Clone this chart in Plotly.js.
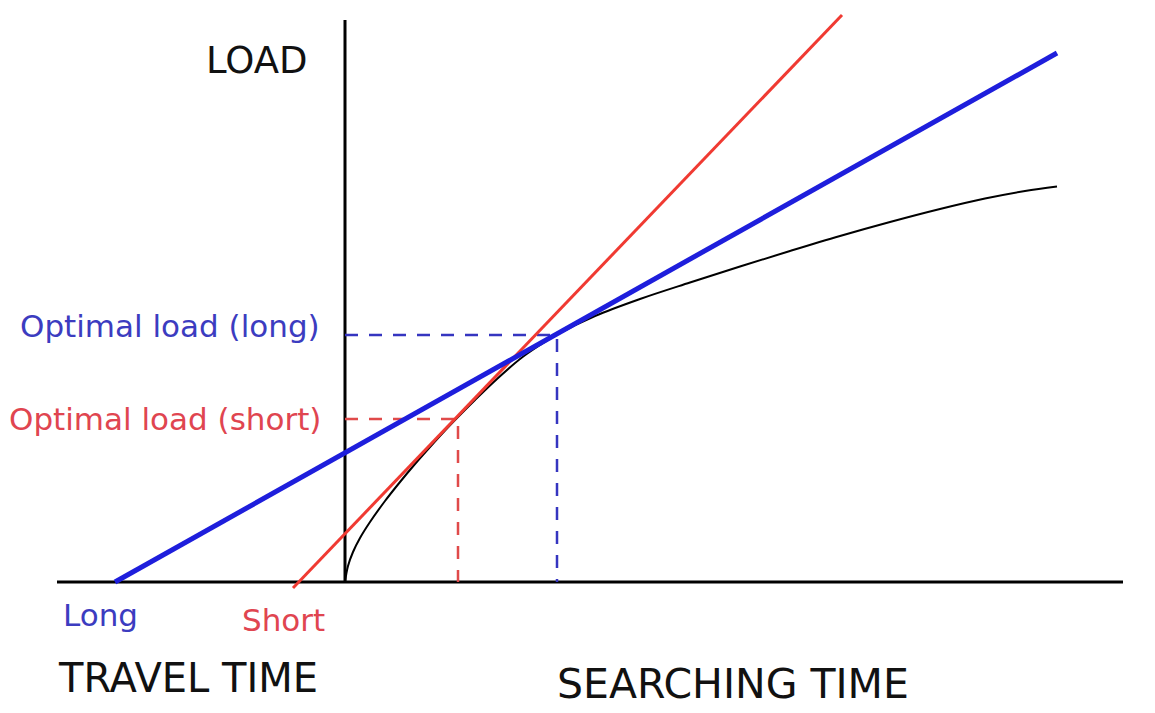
<!DOCTYPE html>
<html>
<head>
<meta charset="utf-8">
<script src="https://cdn.plot.ly/plotly-3.0.1.min.js"></script>
<style>html,body{margin:0;padding:0;background:#fff;}#chart{width:1155px;height:713px;}</style>
</head>
<body>
<div id="chart"></div>
<script>
// Gain curve: load vs searching time (origin at axis intersection)
const searchTime = [0, 3, 8, 15, 25, 40, 55, 70, 85, 100, 113, 130, 152, 175, 195, 212, 250, 295, 345, 395, 445, 495, 545, 595, 640, 680, 712];
const loadCurve  = [0, 16, 30, 44, 60, 81, 100, 118, 135, 151.5, 165, 182, 203, 223, 237, 247.5, 266, 283, 299.5, 315.5, 331, 346, 360, 373, 383.5, 391, 395.5];

// Tangent lines from travel time origins
const longLineX  = [-230, 712];
const longLineY  = [0, 529];
const shortLineX = [-52, 497];
const shortLineY = [-6, 567];

// Optimal points
const optLong  = {x: 212, y: 247};
const optShort = {x: 113, y: 163};

// Axes
const vAxisX = [0, 0];
const vAxisY = [0, 562];
const hAxisX = [-288, 778];
const hAxisY = [0, 0];

const traces = [
  {x: hAxisX, y: hAxisY, mode: 'lines', line: {color: '#000', width: 3}},
  {x: vAxisX, y: vAxisY, mode: 'lines', line: {color: '#000', width: 3}},
  {x: [0, optLong.x, optLong.x], y: [optLong.y, optLong.y, 0], mode: 'lines', line: {color: '#3535c0', width: 2.5, dash: '13px,11px'}},
  {x: [0, optShort.x, optShort.x], y: [optShort.y, optShort.y, 0], mode: 'lines', line: {color: '#e04a4a', width: 2.5, dash: '13px,11px'}},
  {x: searchTime, y: loadCurve, mode: 'lines', line: {color: '#000', width: 2, shape: 'spline', smoothing: 1}},
  {x: shortLineX, y: shortLineY, mode: 'lines', line: {color: '#f03a32', width: 3}},
  {x: longLineX, y: longLineY, mode: 'lines', line: {color: '#1e1edc', width: 5}}
];

const font = 'DejaVu Sans, sans-serif';
const annotations = [
  {x: -88, y: 522, text: 'LOAD', font: {family: font, size: 37, color: '#111'}},
  {x: 388, y: -102, text: 'SEARCHING TIME', font: {family: font, size: 41, color: '#111'}},
  {x: -157, y: -96, text: 'TRAVEL TIME', font: {family: font, size: 40, color: '#111'}},
  {x: -23, y: optLong.y + 9, text: 'Optimal load (long)', xanchor: 'right', font: {family: font, size: 31, color: '#3c3cc0'}},
  {x: -22, y: optShort.y, text: 'Optimal load (short)', xanchor: 'right', font: {family: font, size: 31, color: '#e04550'}},
  {x: -245, y: -33, text: 'Long', font: {family: font, size: 31, color: '#3c3cc0'}},
  {x: -62, y: -38, text: 'Short', font: {family: font, size: 31, color: '#e04550'}}
].map(a => Object.assign({xref: 'x', yref: 'y', showarrow: false, yanchor: 'middle', xanchor: a.xanchor || 'center'}, a));

const layout = {
  width: 1155, height: 713,
  margin: {l: 0, r: 0, t: 0, b: 0},
  paper_bgcolor: '#fff', plot_bgcolor: '#fff',
  showlegend: false,
  xaxis: {range: [-345, 810], showgrid: false, zeroline: false, showticklabels: false, showline: false, fixedrange: true},
  yaxis: {range: [-131, 582], showgrid: false, zeroline: false, showticklabels: false, showline: false, fixedrange: true},
  annotations: annotations
};

Plotly.newPlot('chart', traces, layout, {displayModeBar: false, staticPlot: true});
</script>
</body>
</html>
